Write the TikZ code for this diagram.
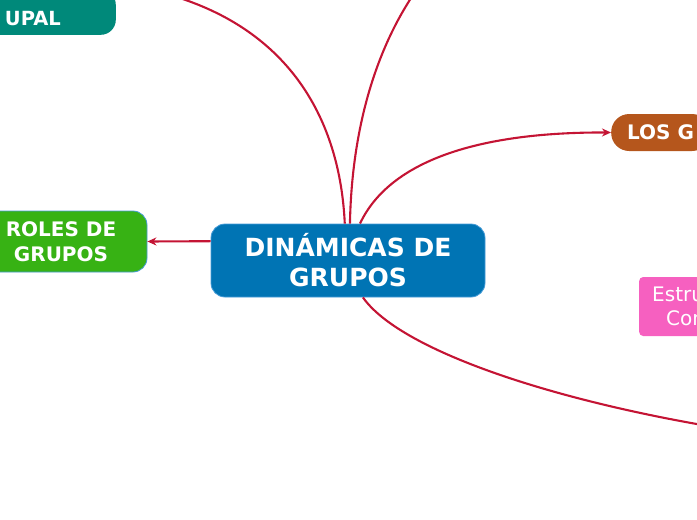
\documentclass[tikz,border=0pt]{standalone}
\usepackage{fontspec}
\setmainfont{DejaVu Sans}
\usetikzlibrary{
    arrows.meta,
    calc
}
\definecolor{dgblue}{RGB}{0,116,180}
\definecolor{dgblueedge}{RGB}{70,155,215}
\definecolor{dggreen}{RGB}{55,178,20}
\definecolor{dgteal}{RGB}{0,137,122}
\definecolor{dgorange}{RGB}{181,86,28}
\definecolor{dgpink}{RGB}{246,96,192}
\definecolor{dgred}{RGB}{196,20,52}
\tikzset{
    % Colors
    link color/.style={color=dgred},
    %
    % Nodes
    topic/.style={text=white,inner sep=0pt,align=center},
    main topic/.style={topic,fill=dgblue,draw=dgblueedge,line width=.8pt,rounded corners=14pt,
        minimum width=274pt,minimum height=73pt,font=\bfseries\fontsize{25}{30}\selectfont},
    green topic/.style={topic,fill=dggreen,draw=dgblueedge,line width=.8pt,rounded corners=14pt,
        minimum width=172pt,minimum height=61pt,font=\bfseries\fontsize{20}{25}\selectfont},
    teal topic/.style={topic,fill=dgteal,rounded corners=15pt,align=right,
        inner xsep=55pt,inner ysep=6pt,text height=30pt,text depth=3pt,font=\bfseries\fontsize{19.5}{23}\selectfont},
    orange topic/.style={topic,fill=dgorange,rounded corners=18pt,inner xsep=16pt,
        minimum height=37pt,font=\bfseries\fontsize{20}{24}\selectfont},
    pink topic/.style={topic,fill=dgpink,rounded corners=4pt,align=left,inner xsep=13pt,
        minimum height=59pt,font=\fontsize{20}{24}\selectfont},
    %
    % Arrows
    arrow tip/.tip={Stealth[length=9pt,width=8pt]},
    arr/.style={->,>={arrow tip}},
    link/.style={link color,line width=2.1pt}
}

\begin{document}
\begin{tikzpicture}[x=1pt,y=-1pt]
    \clip (0,0) rectangle (697,520);

    \node[main topic] (dinamicas) at (348,260.5) {DINÁMICAS DE\\GRUPOS};
    \node[green topic] (roles) at (61,241.5) {ROLES DE\\GRUPOS};
    \node[teal topic,anchor=south east] (grupal) at (116,35) {UPAL};
    \node[orange topic,anchor=west] (losg) at (611,132.5) {LOS G};
    \node[pink topic,anchor=west] (estru) at (639,306.5) {Estru\\\hspace*{14pt}Con};

    % free ends off the page
    \coordinate (upleft) at (170,-5);
    \coordinate (upright) at (420,-15);
    \coordinate (downright) at (720,428);

    \draw[link,arr] (dinamicas.172) -- (roles.east);
    \draw[link] (dinamicas.95) .. controls (340,120) and (290,30) .. (upleft);
    \draw[link] (dinamicas.87) .. controls (352,120) and (380,40) .. (upright);
    \draw[link,arr] (dinamicas.72) .. controls (390,160) and (480,132) .. (losg.west);
    \draw[link] (dinamicas.-68) .. controls (400,350) and (550,400) .. (downright);
\end{tikzpicture}
\end{document}
